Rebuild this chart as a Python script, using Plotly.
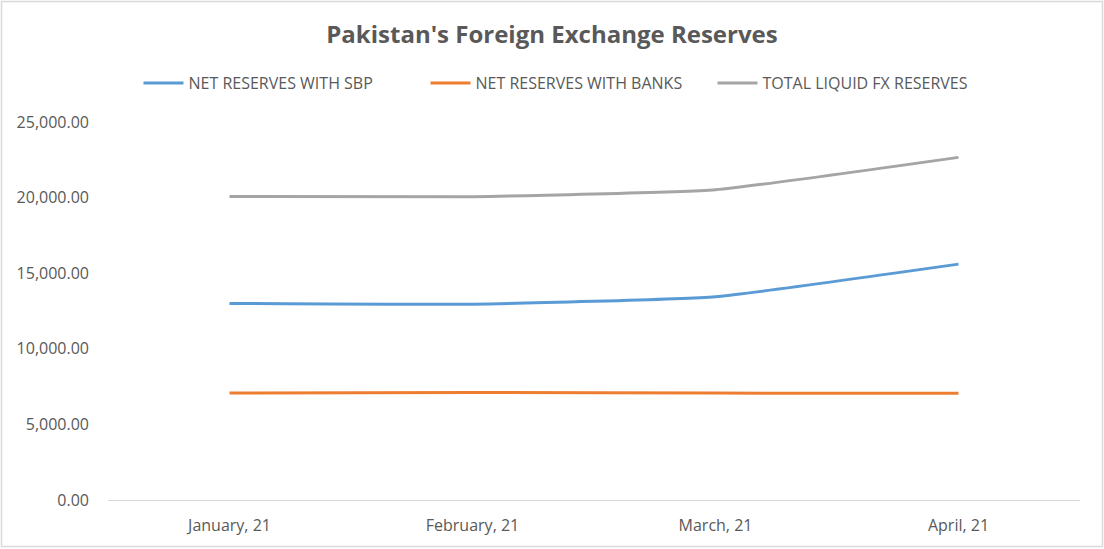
import plotly.graph_objects as go

months = ["January, 21", "February, 21", "March, 21", "April, 21"]
net_sbp = [13000, 12950, 13450, 15600]
net_banks = [7080, 7110, 7070, 7060]
total_liquid = [20080, 20060, 20520, 22660]

W, H = 1104, 549
L, R, T, B = 108, 24, 122, 49

fig = go.Figure()
series = [
    ("NET RESERVES WITH SBP", net_sbp, "#5b9bd5"),
    ("NET RESERVES WITH BANKS", net_banks, "#ed7d31"),
    ("TOTAL LIQUID FX RESERVES", total_liquid, "#a5a5a5"),
]
for name, vals, col in series:
    fig.add_trace(go.Scatter(x=months, y=vals, name=name, mode="lines",
                             line=dict(color=col, width=3, shape="spline", smoothing=0.4)))

pw, ph = W - L - R, H - T - B
fig.add_shape(type="rect", xref="paper", yref="paper",
              x0=(-L + 1.5) / pw, x1=(pw + R - 1.5) / pw,
              y0=(-B + 2.5) / ph, y1=(ph + T - 1.5) / ph,
              line=dict(color="#d9d9d9", width=1.5), layer="below")

fig.update_layout(
    width=W, height=H,
    margin=dict(l=L, r=R, t=T, b=B),
    paper_bgcolor="white", plot_bgcolor="white",
    font=dict(family="Open Sans, sans-serif", size=16, color="#595959"),
    title=dict(text="<b>Pakistan's Foreign Exchange Reserves</b>", x=0.5, xanchor="center",
               y=1 - 35 / H, yanchor="middle",
               font=dict(family="Open Sans, sans-serif", size=24, color="#595959")),
    legend=dict(orientation="h", x=(569 - L) / pw, xanchor="center", y=1 + (T - 83) / ph,
                yanchor="middle",
                font=dict(size=16, color="#595959"), itemwidth=40, entrywidth=232,
                tracegroupgap=0),
    showlegend=True,
)
fig.update_xaxes(showgrid=False, showline=False, ticks="", tickfont=dict(size=16, color="#595959"),
                 range=[-0.5, 3.5], fixedrange=True, ticklabelstandoff=14)
fig.update_yaxes(range=[0, 25000], dtick=5000, tickformat=",.2f", showgrid=False,
                 zeroline=True, zerolinecolor="#d9d9d9", zerolinewidth=1,
                 showline=False, ticks="", ticklabelstandoff=18,
                 tickfont=dict(size=16, color="#595959"))

fig.write_html("out.html")
